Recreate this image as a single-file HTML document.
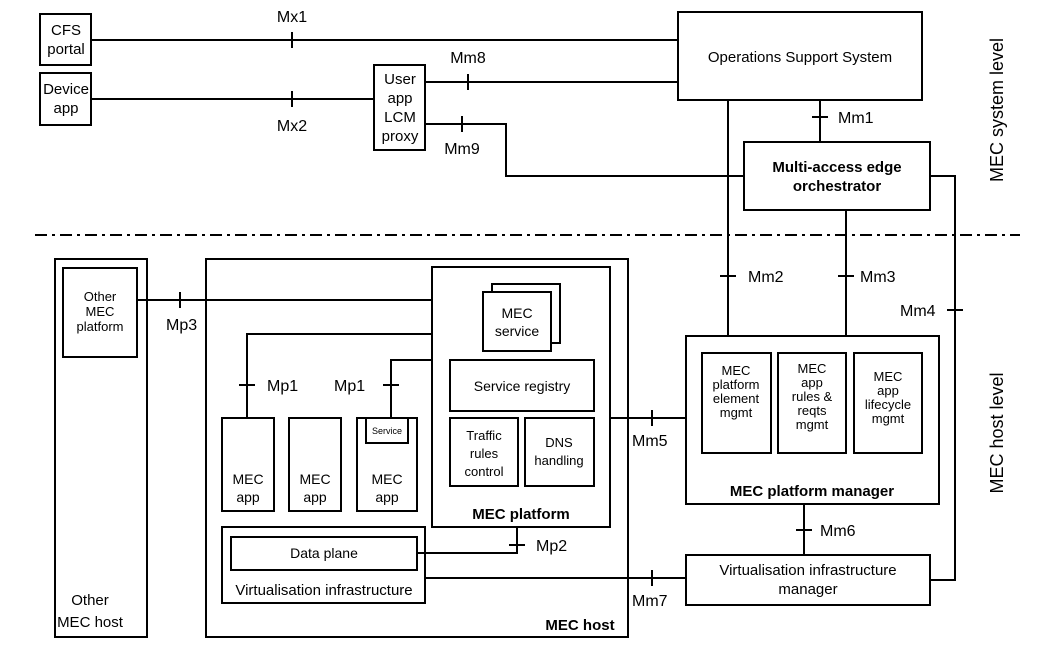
<!DOCTYPE html>
<html><head><meta charset="utf-8"><style>
html,body{margin:0;padding:0;background:#fff}
svg{display:block}
text{font-family:"Liberation Sans",Arial,sans-serif;fill:#000}
</style></head><body>
<svg width="1041" height="650" viewBox="0 0 1041 650" xmlns="http://www.w3.org/2000/svg">
<g fill="none" stroke="#000" stroke-width="2">
<rect x="40" y="14" width="51" height="51"/>
<rect x="40" y="73" width="51" height="52"/>
<rect x="374" y="65" width="51" height="85"/>
<rect x="678" y="12" width="244" height="88"/>
<rect x="744" y="142" width="186" height="68"/>
<path d="M91 40H678 M292 32V48"/>
<path d="M91 99H374 M292 91V107"/>
<path d="M425 82H678 M468 74V90"/>
<path d="M425 124H506V176H744 M462 116V132"/>
<path d="M820 100V142 M812 117H828"/>
<path d="M728 100V336 M720 276H736"/>
<path d="M846 210V336 M838 276H854"/>
<path d="M930 176H955V580H930 M947 310H963"/>
<path d="M35 235H1020" stroke-dasharray="12,5,3,5"/>
<rect x="55" y="259" width="92" height="378"/>
<rect x="63" y="268" width="74" height="89"/>
<path d="M137 300H432 M180 292V308"/>
<rect x="206" y="259" width="422" height="378"/>
<rect x="432" y="267" width="178" height="260"/>
<rect x="492" y="284" width="68" height="59" fill="#fff"/>
<rect x="483" y="292" width="68" height="59" fill="#fff"/>
<rect x="450" y="360" width="144" height="51"/>
<rect x="450" y="418" width="68" height="68"/>
<rect x="525" y="418" width="69" height="68"/>
<path d="M432 334H247V418 M239 385H255"/>
<path d="M432 360H391V418 M383 385H399"/>
<rect x="222" y="418" width="52" height="93"/>
<rect x="289" y="418" width="52" height="93"/>
<rect x="357" y="418" width="60" height="93"/>
<rect x="366" y="418" width="42" height="25"/>
<rect x="222" y="527" width="203" height="76"/>
<rect x="231" y="537" width="186" height="33"/>
<path d="M417 553H517V527 M509 545H525"/>
<path d="M425 578H686 M652 570V586"/>
<path d="M610 418H686 M652 410V426"/>
<rect x="686" y="336" width="253" height="168"/>
<rect x="702" y="353" width="69" height="100"/>
<rect x="778" y="353" width="68" height="100"/>
<rect x="854" y="353" width="68" height="100"/>
<path d="M804 504V555 M796 530H812"/>
<rect x="686" y="555" width="244" height="50"/>
</g>
<g font-size="15" text-anchor="middle">
<text x="66" y="35">CFS</text><text x="66" y="54">portal</text>
<text x="66" y="94">Device</text><text x="66" y="113">app</text>
<text x="400" y="84">User</text><text x="400" y="103">app</text><text x="400" y="122">LCM</text><text x="400" y="141">proxy</text>
<text x="292" y="22" font-size="16">Mx1</text>
<text x="292" y="131" font-size="16">Mx2</text>
<text x="468" y="63" font-size="16">Mm8</text>
<text x="462" y="154" font-size="16">Mm9</text>
<text x="800" y="62">Operations Support System</text>
<text x="837" y="172" font-weight="bold">Multi-access edge</text>
<text x="837" y="191" font-weight="bold">orchestrator</text>
<text x="100" y="301" font-size="13">Other</text><text x="100" y="316" font-size="13">MEC</text><text x="100" y="331" font-size="13">platform</text>
<text x="90" y="605">Other</text><text x="90" y="627">MEC host</text>
<text x="517" y="318" font-size="14">MEC</text><text x="517" y="336" font-size="14">service</text>
<text x="522" y="391" font-size="14">Service registry</text>
<text x="484" y="440" font-size="13">Traffic</text><text x="484" y="458" font-size="13">rules</text><text x="484" y="476" font-size="13">control</text>
<text x="559" y="447" font-size="13">DNS</text><text x="559" y="465" font-size="13">handling</text>
<text x="521" y="519" font-weight="bold">MEC platform</text>
<text x="248" y="484" font-size="14">MEC</text><text x="248" y="502" font-size="14">app</text>
<text x="315" y="484" font-size="14">MEC</text><text x="315" y="502" font-size="14">app</text>
<text x="387" y="484" font-size="14">MEC</text><text x="387" y="502" font-size="14">app</text>
<text x="387" y="434" font-size="9">Service</text>
<text x="324" y="558" font-size="14">Data plane</text>
<text x="324" y="595" font-size="15">Virtualisation infrastructure</text>
<text x="580" y="630" font-weight="bold">MEC host</text>
<text x="736" y="375" font-size="13">MEC</text><text x="736" y="389" font-size="13">platform</text><text x="736" y="403" font-size="13">element</text><text x="736" y="417" font-size="13">mgmt</text>
<text x="812" y="373" font-size="13">MEC</text><text x="812" y="387" font-size="13">app</text><text x="812" y="401" font-size="13">rules &amp;</text><text x="812" y="415" font-size="13">reqts</text><text x="812" y="429" font-size="13">mgmt</text>
<text x="888" y="381" font-size="13">MEC</text><text x="888" y="395" font-size="13">app</text><text x="888" y="409" font-size="13">lifecycle</text><text x="888" y="423" font-size="13">mgmt</text>
<text x="812" y="496" font-weight="bold">MEC platform manager</text>
<text x="808" y="575">Virtualisation infrastructure</text>
<text x="808" y="594">manager</text>
</g>
<g font-size="16">
<text x="838" y="123">Mm1</text>
<text x="748" y="282">Mm2</text>
<text x="860" y="282">Mm3</text>
<text x="900" y="316">Mm4</text>
<text x="632" y="446">Mm5</text>
<text x="820" y="536">Mm6</text>
<text x="632" y="606">Mm7</text>
<text x="166" y="330">Mp3</text>
<text x="267" y="391">Mp1</text>
<text x="334" y="391">Mp1</text>
<text x="536" y="551">Mp2</text>
</g>
<g font-size="18" text-anchor="middle">
<text transform="translate(1003,110) rotate(-90)">MEC system level</text>
<text transform="translate(1003,433) rotate(-90)">MEC host level</text>
</g>
</svg>
</body></html>
